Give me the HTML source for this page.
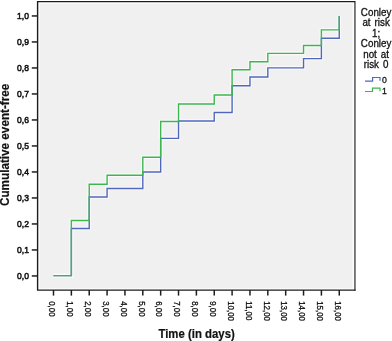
<!DOCTYPE html>
<html><head><meta charset="utf-8"><style>
html,body{margin:0;padding:0;background:#fff;}
body{width:392px;height:341px;overflow:hidden;}
svg{display:block;}
text{font-family:"Liberation Sans",Arial,sans-serif;fill:#111;}
.yl{font-size:9.5px;text-anchor:end;stroke:#111;stroke-width:0.55px;}
.xl{font-size:9px;stroke:#111;stroke-width:0.3px;}
.at{font-size:11.5px;font-weight:bold;stroke:#111;stroke-width:0.2px;}
.lg{font-size:10.1px;stroke:#111;stroke-width:0.3px;word-spacing:1.3px;}
</style></head><body>
<svg width="392" height="341" viewBox="0 0 392 341">
<rect x="38.4" y="2.4" width="315.4" height="287" fill="#fdfdfd"/>
<rect x="39.7" y="3.7" width="312.9" height="284.5" fill="#f0f0f0"/>
<path d="M37.6,290.1 V1.65 H355" fill="none" stroke="#1c1c1c" stroke-width="1.4"/>
<path d="M37,290.2 H355.5" fill="none" stroke="#1c1c1c" stroke-width="1.2"/>
<path d="M354.95,290.8 V1" fill="none" stroke="#1c1c1c" stroke-width="1.15"/>
<line x1="31.8" y1="275.95" x2="37.5" y2="275.95" stroke="#1e1e1e" stroke-width="1.5"/>
<text transform="translate(28.9,278.70) scale(0.9,1)" class="yl">0,0</text>
<line x1="31.8" y1="249.95" x2="37.5" y2="249.95" stroke="#1e1e1e" stroke-width="1.5"/>
<text transform="translate(28.9,252.70) scale(0.9,1)" class="yl">0,1</text>
<line x1="31.8" y1="223.95" x2="37.5" y2="223.95" stroke="#1e1e1e" stroke-width="1.5"/>
<text transform="translate(28.9,226.70) scale(0.9,1)" class="yl">0,2</text>
<line x1="31.8" y1="197.95" x2="37.5" y2="197.95" stroke="#1e1e1e" stroke-width="1.5"/>
<text transform="translate(28.9,200.70) scale(0.9,1)" class="yl">0,3</text>
<line x1="31.8" y1="171.95" x2="37.5" y2="171.95" stroke="#1e1e1e" stroke-width="1.5"/>
<text transform="translate(28.9,174.70) scale(0.9,1)" class="yl">0,4</text>
<line x1="31.8" y1="145.95" x2="37.5" y2="145.95" stroke="#1e1e1e" stroke-width="1.5"/>
<text transform="translate(28.9,148.70) scale(0.9,1)" class="yl">0,5</text>
<line x1="31.8" y1="119.95" x2="37.5" y2="119.95" stroke="#1e1e1e" stroke-width="1.5"/>
<text transform="translate(28.9,122.70) scale(0.9,1)" class="yl">0,6</text>
<line x1="31.8" y1="93.95" x2="37.5" y2="93.95" stroke="#1e1e1e" stroke-width="1.5"/>
<text transform="translate(28.9,96.70) scale(0.9,1)" class="yl">0,7</text>
<line x1="31.8" y1="67.95" x2="37.5" y2="67.95" stroke="#1e1e1e" stroke-width="1.5"/>
<text transform="translate(28.9,70.70) scale(0.9,1)" class="yl">0,8</text>
<line x1="31.8" y1="41.95" x2="37.5" y2="41.95" stroke="#1e1e1e" stroke-width="1.5"/>
<text transform="translate(28.9,44.70) scale(0.9,1)" class="yl">0,9</text>
<line x1="31.8" y1="15.95" x2="37.5" y2="15.95" stroke="#1e1e1e" stroke-width="1.5"/>
<text transform="translate(28.9,18.70) scale(0.9,1)" class="yl">1,0</text>
<line x1="53.50" y1="290" x2="53.50" y2="295.6" stroke="#1e1e1e" stroke-width="1.5"/>
<text transform="translate(49.30,301.2) rotate(90) scale(0.88,1)" class="xl">0,00</text>
<line x1="71.36" y1="290" x2="71.36" y2="295.6" stroke="#1e1e1e" stroke-width="1.5"/>
<text transform="translate(67.16,301.2) rotate(90) scale(0.88,1)" class="xl">1,00</text>
<line x1="89.22" y1="290" x2="89.22" y2="295.6" stroke="#1e1e1e" stroke-width="1.5"/>
<text transform="translate(85.02,301.2) rotate(90) scale(0.88,1)" class="xl">2,00</text>
<line x1="107.08" y1="290" x2="107.08" y2="295.6" stroke="#1e1e1e" stroke-width="1.5"/>
<text transform="translate(102.88,301.2) rotate(90) scale(0.88,1)" class="xl">3,00</text>
<line x1="124.94" y1="290" x2="124.94" y2="295.6" stroke="#1e1e1e" stroke-width="1.5"/>
<text transform="translate(120.74,301.2) rotate(90) scale(0.88,1)" class="xl">4,00</text>
<line x1="142.80" y1="290" x2="142.80" y2="295.6" stroke="#1e1e1e" stroke-width="1.5"/>
<text transform="translate(138.60,301.2) rotate(90) scale(0.88,1)" class="xl">5,00</text>
<line x1="160.66" y1="290" x2="160.66" y2="295.6" stroke="#1e1e1e" stroke-width="1.5"/>
<text transform="translate(156.46,301.2) rotate(90) scale(0.88,1)" class="xl">6,00</text>
<line x1="178.52" y1="290" x2="178.52" y2="295.6" stroke="#1e1e1e" stroke-width="1.5"/>
<text transform="translate(174.32,301.2) rotate(90) scale(0.88,1)" class="xl">7,00</text>
<line x1="196.38" y1="290" x2="196.38" y2="295.6" stroke="#1e1e1e" stroke-width="1.5"/>
<text transform="translate(192.18,301.2) rotate(90) scale(0.88,1)" class="xl">8,00</text>
<line x1="214.24" y1="290" x2="214.24" y2="295.6" stroke="#1e1e1e" stroke-width="1.5"/>
<text transform="translate(210.04,301.2) rotate(90) scale(0.88,1)" class="xl">9,00</text>
<line x1="232.10" y1="290" x2="232.10" y2="295.6" stroke="#1e1e1e" stroke-width="1.5"/>
<text transform="translate(227.90,301.2) rotate(90) scale(0.88,1)" class="xl">10,00</text>
<line x1="249.96" y1="290" x2="249.96" y2="295.6" stroke="#1e1e1e" stroke-width="1.5"/>
<text transform="translate(245.76,301.2) rotate(90) scale(0.88,1)" class="xl">11,00</text>
<line x1="267.82" y1="290" x2="267.82" y2="295.6" stroke="#1e1e1e" stroke-width="1.5"/>
<text transform="translate(263.62,301.2) rotate(90) scale(0.88,1)" class="xl">12,00</text>
<line x1="285.68" y1="290" x2="285.68" y2="295.6" stroke="#1e1e1e" stroke-width="1.5"/>
<text transform="translate(281.48,301.2) rotate(90) scale(0.88,1)" class="xl">13,00</text>
<line x1="303.54" y1="290" x2="303.54" y2="295.6" stroke="#1e1e1e" stroke-width="1.5"/>
<text transform="translate(299.34,301.2) rotate(90) scale(0.88,1)" class="xl">14,00</text>
<line x1="321.40" y1="290" x2="321.40" y2="295.6" stroke="#1e1e1e" stroke-width="1.5"/>
<text transform="translate(317.20,301.2) rotate(90) scale(0.88,1)" class="xl">15,00</text>
<line x1="339.26" y1="290" x2="339.26" y2="295.6" stroke="#1e1e1e" stroke-width="1.5"/>
<text transform="translate(335.06,301.2) rotate(90) scale(0.88,1)" class="xl">16,00</text>
<path d="M53.50,275.60 H71.36 V228.50 H89.22 V197.00 H107.08 V188.50 H142.80 V172.00 H160.66 V138.40 H178.52 V121.00 H214.24 V112.50 H232.10 V85.80 H249.96 V77.00 H267.82 V67.90 H303.54 V58.60 H321.40 V38.20 H339.26 V16.00" fill="none" stroke="#fafafa" stroke-width="3.6"/>
<path d="M53.50,275.60 H71.36 V220.50 H89.22 V184.30 H107.08 V175.30 H142.80 V157.30 H160.66 V121.50 H178.52 V104.00 H214.24 V95.00 H232.10 V69.70 H249.96 V61.70 H267.82 V53.40 H303.54 V45.50 H321.40 V29.90 H339.26 V16.00" fill="none" stroke="#fafafa" stroke-width="3.6"/>
<path d="M53.50,275.60 H71.36 V228.50 H89.22 V197.00 H107.08 V188.50 H142.80 V172.00 H160.66 V138.40 H178.52 V121.00 H214.24 V112.50 H232.10 V85.80 H249.96 V77.00 H267.82 V67.90 H303.54 V58.60 H321.40 V38.20 H339.26 V16.00" fill="none" stroke="#5068bc" stroke-width="1.4"/>
<path d="M53.50,275.60 H71.36 V220.50 H89.22 V184.30 H107.08 V175.30 H142.80 V157.30 H160.66 V121.50 H178.52 V104.00 H214.24 V95.00 H232.10 V69.70 H249.96 V61.70 H267.82 V53.40 H303.54 V45.50 H321.40 V29.90 H339.26 V16.00" fill="none" stroke="#3cb64e" stroke-width="1.4"/>
<text transform="translate(9.3,206.0) rotate(-90) scale(0.93,1)" class="at" style="font-size:12.6px">Cumulative event-free</text>
<text transform="translate(196.6,338.3) scale(0.95,1)" class="at" text-anchor="middle" style="font-size:12px">Time (in days)</text>
<text transform="translate(376.1,15.90) scale(0.97,1)" class="lg" text-anchor="middle">Conley</text>
<text transform="translate(376.1,26.35) scale(0.97,1)" class="lg" text-anchor="middle">at risk</text>
<text transform="translate(376.1,36.80) scale(0.97,1)" class="lg" text-anchor="middle">1;</text>
<text transform="translate(376.1,47.25) scale(0.97,1)" class="lg" text-anchor="middle">Conley</text>
<text transform="translate(376.1,57.70) scale(0.97,1)" class="lg" text-anchor="middle">not at</text>
<text transform="translate(376.1,68.15) scale(0.97,1)" class="lg" text-anchor="middle">risk 0</text>
<path d="M365,81.1 H372.6 V77.5 H380 V80.7" fill="none" stroke="#5068bc" stroke-width="1.2"/>
<path d="M365,91.5 H372.5 V88.1 H380 V91.2" fill="none" stroke="#3cb64e" stroke-width="1.2"/>
<text transform="translate(382,83) scale(0.95,1)" class="lg" style="font-size:9.2px">0</text>
<text transform="translate(382,93.5) scale(0.95,1)" class="lg" style="font-size:9.2px">1</text>
</svg>
</body></html>
